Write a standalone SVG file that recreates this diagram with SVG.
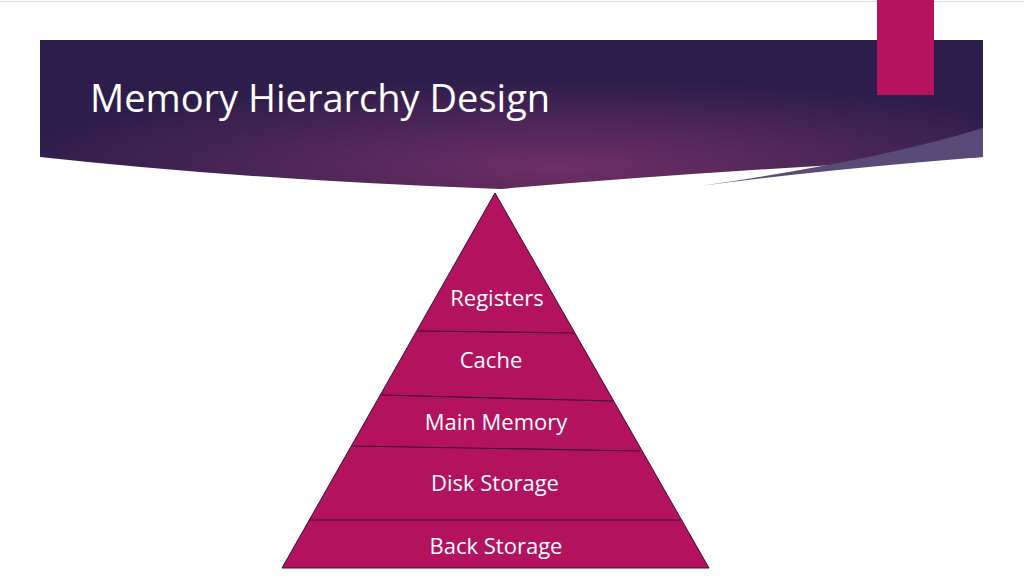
<svg xmlns="http://www.w3.org/2000/svg" width="1024" height="576" viewBox="0 0 1024 576">
<style>
.lbl{font-family:"Open Sans","Liberation Sans",sans-serif;font-size:22px;fill:#fff;text-anchor:middle}
.sep{stroke:#3a1030;stroke-width:1.2}
</style>
<defs>
<radialGradient id="hg" cx="0.55" cy="0.85" r="0.6">
<stop offset="0" stop-color="#6e2f66"/>
<stop offset="1" stop-color="#2c1d4a"/>
</radialGradient>
</defs>
<rect width="1024" height="576" fill="#fff"/>
<line x1="0" y1="1.5" x2="1024" y2="1.5" stroke="#ddd"/>
<g id="header">
<path d="M40,40 H983 V157 Q720,170 500,189 Q250,180 40,157 Z" fill="url(#hg)"/>
<path d="M700,186 Q880,160 983,128 V157 Q820,170 700,186 Z" fill="#5a4a78"/>
<rect x="877" y="0" width="57" height="95" fill="#b5135f"/>
<text x="90" y="112" font-family="'Open Sans','Liberation Sans',sans-serif" font-size="38" fill="#fff">Memory Hierarchy Design</text>
</g>
<g id="pyramid">
<path d="M495,193 L709,568 L282,568 Z" fill="#b3125f" stroke="#3a1030" stroke-width="1"/>
</g>
<g id="connectors">
<line class="sep" x1="418" y1="331" x2="574" y2="333"/>
<line class="sep" x1="381" y1="395" x2="613" y2="401"/>
<line class="sep" x1="352" y1="446" x2="640" y2="451"/>
<line class="sep" x1="310" y1="520" x2="681" y2="520"/>
</g>
<g id="n1"><text class="lbl" x="497" y="306">Registers</text></g>
<g id="n2"><text class="lbl" x="491" y="368">Cache</text></g>
<g id="n3"><text class="lbl" x="496" y="430">Main Memory</text></g>
<g id="n4"><text class="lbl" x="495" y="491">Disk Storage</text></g>
<g id="n5"><text class="lbl" x="496" y="554">Back Storage</text></g>
</svg>
